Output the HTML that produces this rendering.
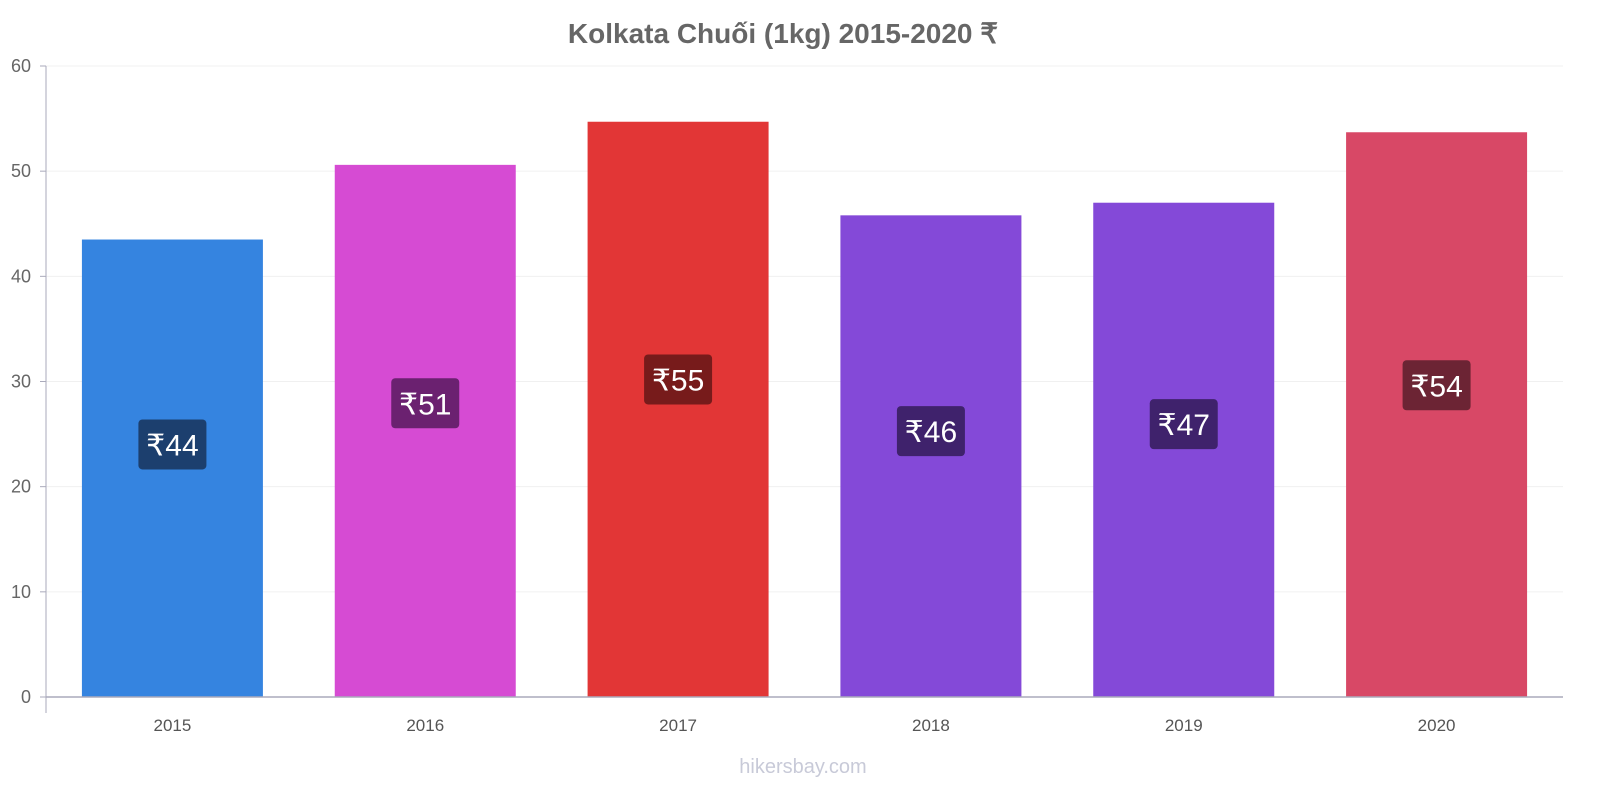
<!DOCTYPE html>
<html><head><meta charset="utf-8"><style>
html,body{margin:0;padding:0;width:1600px;height:800px;overflow:hidden;background:#fff;font-family:"Liberation Sans",sans-serif}
svg{display:block}
</style></head><body>
<svg width="1600" height="800" id="c">
<text x="783" y="43" text-anchor="middle" font-size="28" font-weight="bold" fill="#666">Kolkata Chuối (1kg) 2015-2020 ₹</text>
<text x="803" y="773" text-anchor="middle" font-size="20" fill="#c8cad8">hikersbay.com</text>
</svg>
<script>
const categories=["2015","2016","2017","2018","2019","2020"];
const values=[43.5,50.6,54.7,45.8,47.0,53.7];
const valueLabels=["₹44","₹51","₹55","₹46","₹47","₹54"];
const yTicks=[0,10,20,30,40,50,60];
const colors=["#3584e0","#d64bd3","#e23636","#8449d8","#8449d8","#d84866"];
const labelColors=["#1c3f6e","#6b2170","#771b1b","#3f226c","#3f226c","#6c2434"];
const svg=document.getElementById('c');const NS="http://www.w3.org/2000/svg";
const x0=46,x1=1563,yB=697,yT=66,yMax=60;
const y=v=>yB-(v/yMax)*(yB-yT);
const band=(x1-x0)/categories.length;
function mk(t,a,p){const e=document.createElementNS(NS,t);for(const k in a)e.setAttribute(k,a[k]);(p||svg).appendChild(e);return e;}
yTicks.forEach(t=>{
 const g=mk('line',{x1:x0,x2:x1,y1:y(t),y2:y(t),stroke:'#f0f0f0'});
 
 const tk=mk('line',{x1:40,x2:x0,y1:y(t),y2:y(t),stroke:'#aab'});
 
 const l=mk('text',{x:31,y:y(t)+6,'text-anchor':'end','font-size':18,fill:'#666'});l.textContent=t;
 
});
categories.forEach((c,i)=>{
 const bw=181,bx=x0+band*i+(band-bw)/2,top=y(values[i]);
 const r=mk('rect',{x:bx,y:top,width:bw,height:yB-top,fill:colors[i]});
 
 const cx=bx+bw/2,cy=yB-(yB-top)*0.552;
 const b=mk('rect',{x:cx-34,y:cy-25,width:68,height:50,rx:4,fill:labelColors[i]});
 
 const t=mk('text',{x:cx,y:cy+11,'text-anchor':'middle','font-size':30,fill:'#fff'});t.textContent=valueLabels[i];
 
 const xl=mk('text',{x:cx,y:731,'text-anchor':'middle','font-size':17,fill:'#555'});xl.textContent=c;
 
});
const ya=mk('line',{x1:x0,x2:x0,y1:yT,y2:713,stroke:'#aab'});

const xa=mk('line',{x1:x0,x2:x1,y1:yB,y2:yB,stroke:'#aab','stroke-width':1.5});

</script>
</body></html>
